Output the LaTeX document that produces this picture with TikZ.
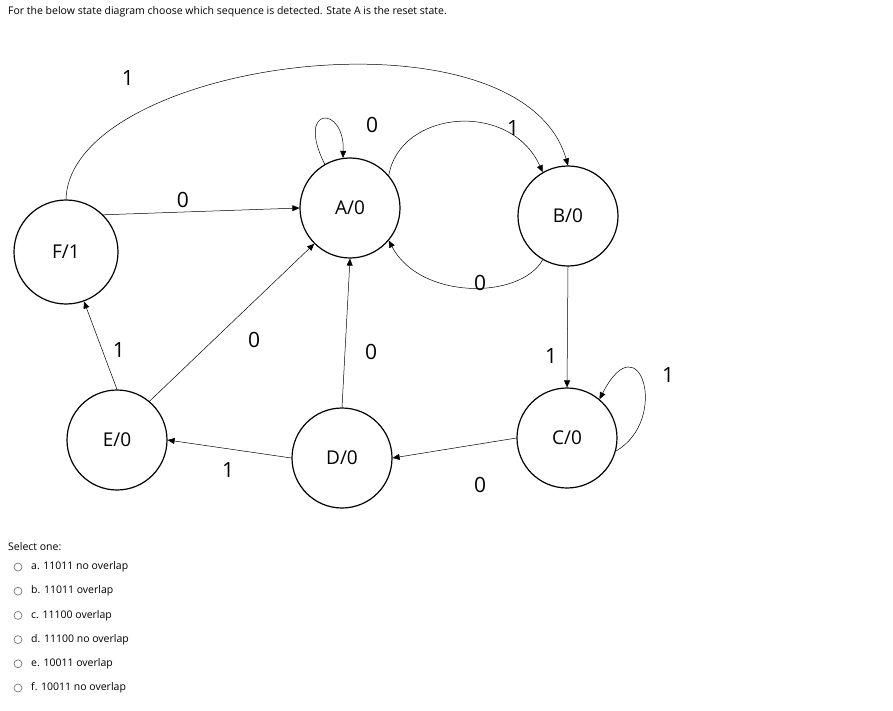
\documentclass[tikz,border=0pt]{standalone}
\usepackage{fontspec}
\setmainfont{Open Sans}
\newfontfamily\carlfont{Open Sans}
\usetikzlibrary{arrows.meta}
\begin{document}
\begin{tikzpicture}[x=1pt,y=-1pt,
  st/.style={circle,draw,line width=1.2pt,minimum size=100pt,inner sep=0pt,font=\carlfont\fontsize{19}{24}\selectfont},
  lab/.style={font=\carlfont\fontsize{21}{24}\selectfont,inner sep=1pt},
  ar/.style={-{Triangle[length=7pt,width=6pt]},line width=0.5pt},
  txt/.style={font=\fontsize{10.5}{13}\selectfont,anchor=west,inner sep=0pt},
  rad/.style={circle,draw=black!60,minimum size=8pt,inner sep=0pt,line width=0.6pt}]
\useasboundingbox (0,0) rectangle (893,711);
\node[txt] (title) at (8,12) {For the below state diagram choose which sequence is detected. State A is the reset state.};
\node[st] (A) at (350,208) {A/0};
\node[st] (B) at (568,216) {B/0};
\node[st,minimum size=104pt] (F) at (66,252) {F/1};
\node[st] (E) at (117,440) {E/0};
\node[st] (D) at (342,458) {D/0};
\node[st] (C) at (567,438) {C/0};
% F -> B
\draw[ar] (F.north) .. controls (70,60) and (520,0) .. (B.north);
\node[lab] (l1) at (128,78) {1};
% F -> A
\draw[ar] (F.north east) -- (A.west);
\node[lab] (l2) at (183,200) {0};
% A self loop
\draw[ar] (A.120) .. controls (295,105) and (345,105) .. (A.98);
\node[lab] (l3) at (372,125) {0};
% A -> B
\draw[ar] (A.40) .. controls (400,110) and (510,100) .. (B.120);
\node[lab] (l4) at (513,128) {1};
% B -> A
\draw[ar] (B.240) .. controls (520,300) and (420,300) .. (A.-40);
\node[lab] (l5) at (480,283) {0};
% E -> F
\draw[ar] (E.north) -- (F.-70);
\node[lab] (l6) at (119,350) {1};
% E -> A
\draw[ar] (E.50) -- (A.225);
\node[lab] (l7) at (254,340) {0};
% D -> A
\draw[ar] (D.north) -- (A.south);
\node[lab] (l8) at (371,352) {0};
% B -> C
\draw[ar] (B.south) -- (C.north);
\node[lab] (l9) at (551,356) {1};
% C self loop
\draw[ar] (C.-15) .. controls (670,420) and (640,320) .. (C.50);
\node[lab] (l10) at (668,375) {1};
% C -> D
\draw[ar] (C.west) -- (D.east);
\node[lab] (l11) at (480,485) {0};
% D -> E
\draw[ar] (D.west) -- (E.east);
\node[lab] (l12) at (228,470) {1};
% options
\node[txt] (sel) at (8,547) {Select one:};
\foreach \i/\t in {0/a. 11011 no overlap,1/b. 11011 overlap,2/c. 11100 overlap,3/d. 11100 no overlap,4/e. 10011 overlap,5/f. 10011 no overlap}{
  \node[rad] (r\i) at (18,567+24.2*\i) {};
  \node[txt] (o\i) at (31,567+24.2*\i) {\t};
}
\end{tikzpicture}
\end{document}
